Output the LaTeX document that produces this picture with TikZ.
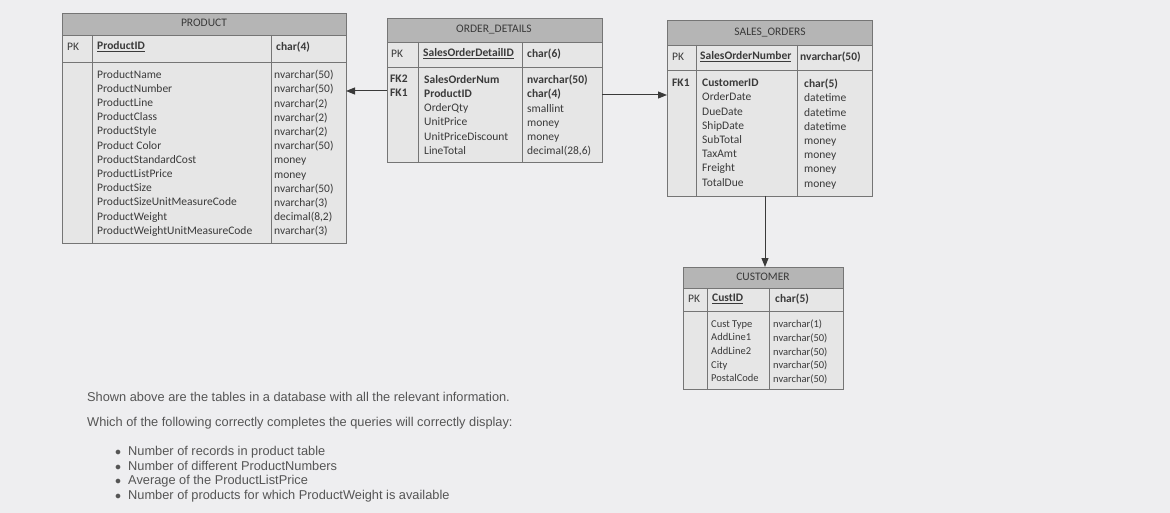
\documentclass[tikz,border=0pt]{standalone}
\usepackage{fontspec}
\setmainfont{Carlito}
\setsansfont{Liberation Sans}
\usetikzlibrary{arrows.meta}
\definecolor{bg}{HTML}{EEEEF0}
\definecolor{tb}{HTML}{E6E6E6}
\definecolor{hd}{HTML}{B5B5B5}
\definecolor{ink}{HTML}{3A3A3A}
\definecolor{qt}{HTML}{555555}
\tikzset{
 tbox/.style={draw=ink!70, fill=tb, line width=0.8pt},
 hbox/.style={draw=ink!70, fill=hd, line width=0.8pt},
 lbl/.style={inner sep=0pt, anchor=north west, align=left, font=\fontsize{11.5}{14.2}\selectfont, text=ink},
 ttl/.style={inner sep=0pt, font=\fontsize{11.5}{13}\selectfont, text=ink},
 rel/.style={draw=ink, line width=1pt, -{Triangle[length=9pt,width=7pt]}},
 qtext/.style={inner sep=0pt, anchor=west, font=\sffamily\fontsize{12.8}{14}\selectfont, text=qt}
}
\begin{document}
\begin{tikzpicture}[x=1pt,y=-1pt]
\fill[bg] (0,0) rectangle (1170,513);
\useasboundingbox (0,0) rectangle (1170,513);
% PRODUCT
\draw[hbox] (62,13) rectangle (346,35);
\draw[tbox] (62,35) rectangle (346,243);
\draw[ink!70] (62,62) -- (346,62) (92,35) -- (92,243) (271,35) -- (271,243);
\node[ttl] (pt) at (204,23) {PRODUCT};
\node[ttl,anchor=west] (ppk) at (67,47) {PK};
\node[ttl,anchor=west] (pid) at (97,47) {\textbf{\underline{ProductID}}};
\node[ttl,anchor=west] (pidt) at (276,47) {\textbf{char(4)}};
\node[lbl] (pcols) at (97,70) {ProductName\\ProductNumber\\ProductLine\\ProductClass\\ProductStyle\\Product Color\\ProductStandardCost\\ProductListPrice\\ProductSize\\ProductSizeUnitMeasureCode\\ProductWeight\\ProductWeightUnitMeasureCode};
\node[lbl] (ptypes) at (274,70) {nvarchar(50)\\nvarchar(50)\\nvarchar(2)\\nvarchar(2)\\nvarchar(2)\\nvarchar(50)\\money\\money\\nvarchar(50)\\nvarchar(3)\\decimal(8,2)\\nvarchar(3)};
\coordinate (pin) at (346,91);
% ORDER_DETAILS
\draw[hbox] (387,18) rectangle (602,42);
\draw[tbox] (387,42) rectangle (602,162);
\draw[ink!70] (387,67) -- (602,67) (418,42) -- (418,162) (522,42) -- (522,162);
\node[ttl] (ot) at (494,30) {ORDER\_DETAILS};
\node[ttl,anchor=west] (opk) at (391,54) {PK};
\node[ttl,anchor=west] (oid) at (423,54) {\textbf{\underline{SalesOrderDetailID}}};
\node[ttl,anchor=west] (oidt) at (527,54) {\textbf{char(6)}};
\node[lbl] (ofk) at (390,75) {\textbf{FK2}\\\textbf{FK1}};
\node[lbl] (ocols) at (424,75) {\textbf{SalesOrderNum}\\\textbf{ProductID}\\OrderQty\\UnitPrice\\UnitPriceDiscount\\LineTotal};
\node[lbl] (otypes) at (527,75) {\textbf{nvarchar(50)}\\\textbf{char(4)}\\smallint\\money\\money\\decimal(28,6)};
\coordinate (oleft) at (387,91);
\coordinate (oright) at (602,95);
% SALES_ORDERS
\draw[hbox] (667,20) rectangle (872,45);
\draw[tbox] (667,45) rectangle (872,196);
\draw[ink!70] (667,70) -- (872,70) (696,45) -- (696,196) (797,45) -- (797,196);
\node[ttl] (st) at (770,33) {SALES\_ORDERS};
\node[ttl,anchor=west] (spk) at (672,57) {PK};
\node[ttl,anchor=west] (sid) at (700,57) {\textbf{\underline{SalesOrderNumber}}};
\node[ttl,anchor=west] (sidt) at (800,57) {\textbf{nvarchar(50)}};
\node[lbl] (sfk) at (672,79) {\textbf{FK1}};
\node[lbl] (scols) at (702,79) {\textbf{CustomerID}\\OrderDate\\DueDate\\ShipDate\\SubTotal\\TaxAmt\\Freight\\TotalDue};
\node[lbl] (stypes) at (804,79) {\textbf{char(5)}\\datetime\\datetime\\datetime\\money\\money\\money\\money};
\coordinate (sin) at (667,95);
\coordinate (sbot) at (765,196);
% CUSTOMER
\draw[hbox] (683,267) rectangle (843,288);
\draw[tbox] (683,288) rectangle (843,389);
\draw[ink!70] (683,311) -- (843,311) (707,288) -- (707,389) (769,288) -- (769,389);
\node[ttl] (ct) at (763,277) {CUSTOMER};
\node[ttl,anchor=west] (cpk) at (688,299) {PK};
\node[ttl,anchor=west] (cid) at (712,299) {\textbf{\underline{CustID}}};
\node[ttl,anchor=west] (cidt) at (775,299) {\textbf{char(5)}};
\node[lbl,font=\fontsize{10.5}{13.7}\selectfont] (ccols) at (711,320) {Cust Type\\AddLine1\\AddLine2\\City\\PostalCode};
\node[lbl,font=\fontsize{10.5}{13.7}\selectfont] (ctypes) at (773,320) {nvarchar(1)\\nvarchar(50)\\nvarchar(50)\\nvarchar(50)\\nvarchar(50)};
\coordinate (ctop) at (765,267);
% relations
\draw[rel] (oleft) -- (pin);
\draw[rel] (oright) -- (sin);
\draw[rel] (sbot) -- (ctop);
% question text
\node[qtext] (q1) at (87,397) {Shown above are the tables in a database with all the relevant information.};
\node[qtext] (q2) at (87,423) {Which of the following correctly completes the queries will correctly display:};
\node[qtext] (b1) at (115,452) {$\bullet$\hspace{7pt}Number of records in product table};
\node[qtext] (b2) at (115,466) {$\bullet$\hspace{7pt}Number of different ProductNumbers};
\node[qtext] (b3) at (115,481) {$\bullet$\hspace{7pt}Average of the ProductListPrice};
\node[qtext] (b4) at (115,496) {$\bullet$\hspace{7pt}Number of products for which ProductWeight is available};
\end{tikzpicture}
\end{document}
